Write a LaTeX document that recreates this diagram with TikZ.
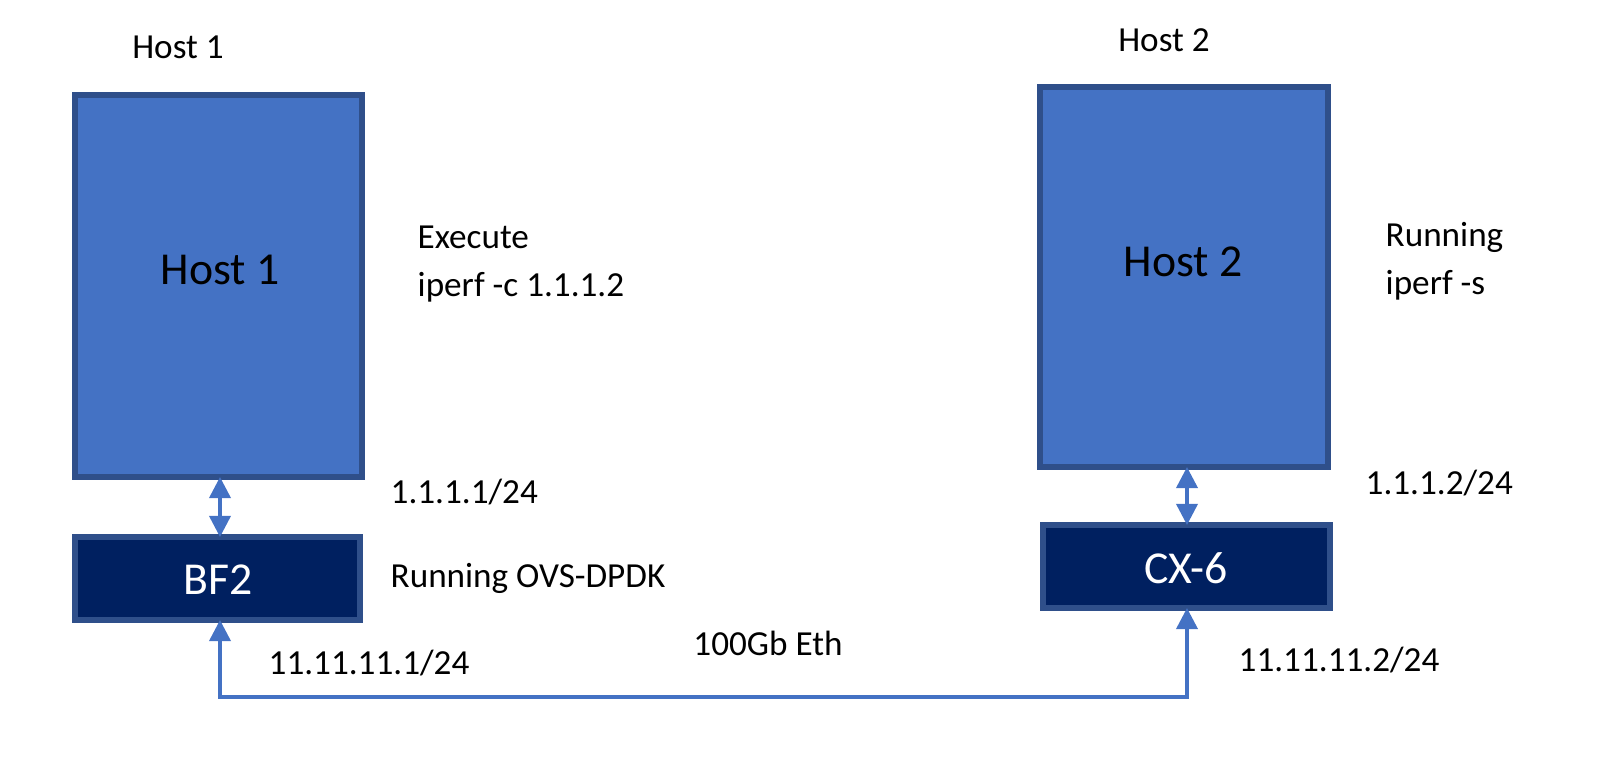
\documentclass[tikz,border=0pt]{standalone}
\usepackage{fontspec}
\setmainfont{Carlito}
\usetikzlibrary{arrows.meta, positioning}
\definecolor{hostColor}{HTML}{4472C4}
\definecolor{hostBorder}{HTML}{2F4F8A}
\definecolor{nicColor}{HTML}{002060}
\definecolor{lineColor}{HTML}{4472C4}

\begin{document}
\begin{tikzpicture}[
    x=0.01cm, y=-0.01cm,
    % Box Styles
    hostBox/.style={
        draw=hostBorder,
        line width=1.5pt,
        fill=hostColor,
        text=black,
        font=\fontsize{13}{15}\selectfont
    },
    nicBox/.style={
        draw=hostBorder,
        line width=1.5pt,
        fill=nicColor,
        text=white,
        font=\fontsize{13}{15}\selectfont
    },
    % Line Styles
    connector/.style={
        {Triangle[width=6pt,length=6pt]}-{Triangle[width=6pt,length=6pt]},
        line width=1pt,
        color=lineColor
    },
    % Text Styles
    note/.style={
        font=\fontsize{10}{13.7}\selectfont,
        align=left,
        anchor=west,
        inner sep=0pt
    }
]
    \useasboundingbox (0,0) rectangle (1600,765);

    % --- HOST 1 SIDE ---
    \node[note, anchor=center] (lblHostA) at (178,47) {Host 1};
    \draw[hostBox] (75,95) rectangle (362,477);
    \node[font=\fontsize{13}{15}\selectfont] (hostA) at (220,270) {Host 1};
    \coordinate (hostAbot) at (220,477);
    \draw[nicBox] (75,537) rectangle (360,620);
    \node[text=white, font=\fontsize{13}{15}\selectfont] (bfA) at (218,580) {BF2};
    \coordinate (bfAtop) at (220,537);
    \coordinate (bfAbot) at (220,620);

    \node[note] (cmdA) at (417,264) {Execute\\iperf -c 1.1.1.2};
    \node[note] (ipA) at (390,492) {1.1.1.1/24};
    \node[note] (ovs) at (390,578) {Running OVS-DPDK};
    \node[note] (ethA) at (268,663) {11.11.11.1/24};

    % --- HOST 2 SIDE ---
    \node[note, anchor=center] (lblHostB) at (1164,40) {Host 2};
    \draw[hostBox] (1040,87) rectangle (1328,467);
    \node[font=\fontsize{13}{15}\selectfont] (hostB) at (1183,262) {Host 2};
    \coordinate (hostBbot) at (1187,467);
    \draw[nicBox] (1043,525) rectangle (1330,608);
    \node[text=white, font=\fontsize{13}{15}\selectfont] (cxB) at (1186,568) {CX-6};
    \coordinate (cxBtop) at (1187,525);
    \coordinate (cxBbot) at (1187,608);

    \node[note] (cmdB) at (1385,261) {Running\\iperf -s};
    \node[note] (ipB) at (1365,483) {1.1.1.2/24};
    \node[note] (ethB) at (1238,660) {11.11.11.2/24};

    % --- CONNECTIONS ---
    \draw[connector] (hostAbot) -- (bfAtop);
    \draw[connector] (hostBbot) -- (cxBtop);
    \draw[connector] (bfAbot) -- (220,697) -- (1187,697) -- (cxBbot);
    \node[note, anchor=center] (link) at (768,643) {100Gb Eth};
\end{tikzpicture}
\end{document}
